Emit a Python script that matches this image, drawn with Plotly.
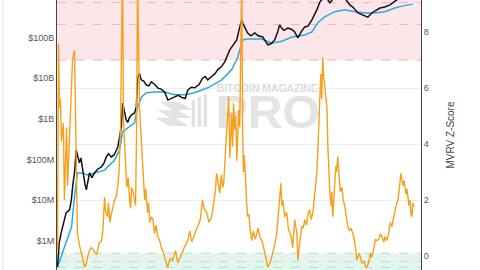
import base64
import plotly.graph_objects as go

# ---------------- data (time in fractional years) ----------------
mcap_t = [2010.55, 2010.70, 2010.90, 2011.04, 2011.11, 2011.24, 2011.31, 2011.44, 2011.58, 2011.72,
          2011.85, 2012.05, 2012.33, 2012.53, 2012.73, 2013.00, 2013.14, 2013.20, 2013.34, 2013.48,
          2013.68, 2013.81, 2013.95, 2014.16, 2014.36, 2014.63, 2014.90, 2015.03, 2015.31, 2015.63,
          2015.84, 2016.12, 2016.44, 2016.65, 2017.05, 2017.34, 2017.54, 2017.83, 2018.03, 2018.15,
          2018.27, 2018.56, 2018.88, 2019.09, 2019.37, 2019.57, 2019.90, 2020.18, 2020.31, 2020.59,
          2020.88, 2021.08, 2021.20, 2021.28, 2021.40, 2021.61, 2021.93, 2022.22, 2022.42, 2022.54,
          2022.75, 2022.95, 2023.15, 2023.31, 2023.52, 2023.64, 2023.84, 2024.05, 2024.33, 2024.53,
          2025.02,
          # extra wiggles
          2010.62, 2010.80, 2011.18, 2011.50, 2011.66, 2011.95, 2012.18, 2012.43, 2012.62, 2012.85,
          2013.27, 2013.40, 2013.58, 2013.75, 2013.88, 2014.05, 2014.26, 2014.48, 2014.76, 2015.17,
          2015.45, 2015.74, 2015.98, 2016.30, 2016.55, 2016.82, 2016.95, 2017.20, 2017.45, 2017.68,
          2017.93, 2018.08, 2018.40, 2018.70, 2019.22, 2019.48, 2019.65, 2019.75, 2020.05, 2020.45,
          2020.72]
mcap = [2.3e5, 1.6e6, 4.9e6, 5.8e6, 1.0e7, 4.7e7, 1.72e8, 8.3e7, 4.7e7, 1.8e7,
        4.7e7, 4.7e7, 6.6e7, 1.16e8, 1.16e8, 2.04e8, 6.3e8, 2.45e9, 9.4e8, 1.1e9,
        1.4e9, 1.07e10, 9.1e9, 6.8e9, 8.1e9, 5.7e9, 4.6e9, 2.9e9, 3.5e9, 3.3e9,
        5.1e9, 5.8e9, 1.0e10, 9.1e9, 1.6e10, 2.5e10, 4.9e10, 8.7e10, 2.7e11, 1.82e11,
        1.29e11, 1.29e11, 1.03e11, 6.6e10, 8.7e10, 2.04e11, 1.71e11, 1.37e11, 9.8e10, 1.82e11,
        2.7e11, 4.75e11, 7.4e11, 8.4e11, 1.1e12, 7.1e11, 1.25e12, 9.2e11, 6.3e11, 5.6e11,
        4.0e11, 3.5e11, 3.16e11, 4.0e11, 4.75e11, 5.3e11, 5.6e11, 6.3e11, 8.4e11, 1.1e12,
        2.0e12,
        9.0e5, 3.0e6, 2.6e7, 1.1e8, 2.6e7, 3.6e7, 5.8e7, 8.0e7, 1.4e8, 1.3e8,
        1.5e9, 8.2e8, 1.3e9, 2.0e9, 1.3e10, 8.5e9, 6.5e9, 7.2e9, 5.4e9, 3.2e9,
        3.8e9, 3.2e9, 6.0e9, 7.0e9, 1.1e10, 1.1e10, 1.3e10, 1.9e10, 3.8e10, 6.5e10,
        1.6e11, 2.2e11, 1.1e11, 1.1e11, 7.0e10, 1.3e11, 1.7e11, 1.5e11, 1.6e11, 1.4e11,
        1.9e11]

rcap_t = [2010.55, 2010.75, 2010.96, 2011.12, 2011.24, 2011.36, 2011.53, 2011.77, 2012.05, 2012.46,
          2012.87, 2013.07, 2013.19, 2013.40, 2013.68, 2013.80, 2013.97, 2014.17, 2014.49, 2014.90,
          2015.31, 2015.71, 2016.12, 2016.65, 2017.22, 2017.62, 2017.87, 2018.07, 2018.27, 2018.84,
          2019.25, 2019.66, 2020.06, 2020.59, 2020.88, 2021.12, 2021.40, 2021.81, 2022.22, 2022.62,
          2023.03, 2023.44, 2023.84, 2024.25, 2024.53, 2024.98]
rcap = [2.3e5, 5.1e5, 1.05e6, 2.2e6, 1.2e7, 4.7e7, 4.7e7, 4.2e7, 4.7e7, 5.5e7,
        9.8e7, 1.72e8, 4.8e8, 6.0e8, 8.0e8, 1.96e9, 3.5e9, 4.4e9, 4.6e9, 4.6e9,
        3.9e9, 3.9e9, 4.4e9, 5.8e9, 9.1e9, 1.6e10, 3.3e10, 8.7e10, 9.2e10, 9.2e10,
        7.2e10, 8.1e10, 1.03e11, 1.15e11, 1.37e11, 2.3e11, 3.2e11, 4.3e11, 4.8e11, 4.3e11,
        4.0e11, 4.0e11, 4.3e11, 5.3e11, 5.9e11, 6.6e11]

z_t = [2010.55, 2010.59, 2010.63, 2010.67, 2010.71, 2010.79, 2010.83, 2010.92, 2010.96, 2011.04,
       2011.12, 2011.16, 2011.24, 2011.32, 2011.36, 2011.53, 2011.65, 2011.77, 2011.93, 2012.14,
       2012.34, 2012.46, 2012.58, 2012.75, 2012.87, 2012.99, 2013.11, 2013.19, 2013.23, 2013.36,
       2013.48, 2013.56, 2013.68, 2013.76, 2013.80, 2013.88, 2013.97, 2014.09, 2014.21, 2014.37,
       2014.49, 2014.70, 2014.82, 2015.02, 2015.23, 2015.43, 2015.59, 2015.84, 2016.12, 2016.44,
       2016.61, 2016.81, 2017.01, 2017.14, 2017.26, 2017.42, 2017.50, 2017.62, 2017.70, 2017.83,
       2017.91, 2017.99, 2018.03, 2018.07, 2018.19, 2018.27, 2018.44, 2018.64, 2018.84, 2019.01,
       2019.09, 2019.29, 2019.45, 2019.62, 2019.70, 2019.86, 2019.98, 2020.10, 2020.18, 2020.27,
       2020.31, 2020.47, 2020.59, 2020.79, 2020.92, 2021.08, 2021.20, 2021.32, 2021.40, 2021.49,
       2021.53, 2021.61, 2021.73, 2021.81, 2021.93, 2022.10, 2022.22, 2022.34, 2022.54, 2022.70,
       2022.91, 2023.11, 2023.31, 2023.52, 2023.72, 2023.92, 2024.13, 2024.25, 2024.37, 2024.49,
       2024.66, 2024.78, 2024.94, 2025.02,
       # extra wiggles
       2011.45, 2011.58, 2011.71, 2011.85, 2012.04, 2012.24, 2012.40, 2012.50, 2012.62, 2012.68,
       2012.80, 2012.93, 2013.05, 2013.42, 2013.52, 2013.62, 2013.72, 2014.02, 2014.13, 2014.25,
       2014.30, 2014.43, 2014.55, 2014.62, 2014.76, 2015.12, 2015.35, 2015.50, 2015.70, 2015.92,
       2016.00, 2016.25, 2016.35, 2016.50, 2016.70, 2016.90, 2016.96, 2017.08, 2017.20, 2017.30,
       2017.36, 2017.46, 2017.55, 2017.58, 2017.66, 2017.75, 2017.79, 2017.87, 2017.95, 2018.10,
       2018.14, 2018.23, 2018.32, 2018.38, 2018.50, 2018.58, 2018.70, 2018.76, 2018.92, 2019.20,
       2019.37, 2019.52, 2019.57, 2019.66, 2019.78, 2019.92, 2020.03, 2020.40, 2020.53, 2020.66,
       2020.72, 2020.85, 2020.98, 2021.03, 2021.14, 2021.24, 2021.28, 2021.36, 2021.44, 2021.57,
       2021.66, 2021.69, 2021.77, 2021.85, 2021.88, 2021.98, 2022.03, 2022.15, 2022.28, 2022.40,
       2022.47, 2022.60, 2022.65, 2022.80, 2022.85, 2023.00, 2023.05, 2023.20, 2023.25, 2023.40,
       2023.46, 2023.60, 2023.66, 2023.80, 2023.86, 2024.00, 2024.06, 2024.18, 2024.30, 2024.42,
       2024.53, 2024.58, 2024.62, 2024.70, 2024.74, 2024.82, 2024.86, 2024.90, 2024.98]
z = [0.2, 7.6, 5.3, 5.6, 4.1, 4.75, 2.0, 4.6, 2.5, 4.4,
     6.75, 7.0, 7.35, 3.2, 0.8, 0.1, -0.4, -0.05, 0.3, 0.05,
     0.55, 2.1, 1.4, 1.55, 2.0, 2.45, 4.6, 10.5, 4.85, 2.45,
     2.0, 2.45, 2.0, 4.4, 10.0, 5.3, 3.8, 2.0, 1.55, 1.4,
     0.8, 0.55, 0.2, -0.4, -0.15, -0.25, 0.1, 0.55, 0.8, 2.0,
     1.55, 1.4, 2.95, 2.25, 2.45, 4.15, 5.7, 5.1, 5.45, 3.4,
     5.2, 6.75, 10.0, 4.4, 2.35, 1.4, 0.55, 0.8, 0.55, -0.15,
     -0.4, 0.1, 0.8, 2.6, 2.0, 1.55, 0.8, 0.3, 1.3, 0.8,
     -0.15, 1.05, 1.3, 1.65, 1.55, 2.95, 5.8, 7.1, 6.05, 5.3,
     3.9, 2.25, 1.4, 2.7, 3.55, 2.45, 1.75, 1.05, 0.8, -0.15,
     -0.25, -0.4, -0.05, 0.55, 0.7, 0.55, 1.05, 1.65, 2.0, 2.95,
     2.45, 2.0, 1.4, 1.75,
     0.35, -0.1, -0.3, 0.2, 0.15, 0.45, 1.0, 1.6, 1.9, 1.2,
     1.8, 2.1, 3.0, 2.8, 1.7, 2.3, 1.8, 3.0, 2.4, 1.9,
     1.2, 1.3, 1.1, 0.7, 0.3, -0.1, 0.2, -0.1, 0.3, 0.9,
     0.5, 1.1, 1.3, 1.7, 1.2, 1.9, 2.3, 2.6, 2.9, 2.6,
     3.6, 4.9, 3.5, 4.6, 3.9, 4.5, 5.0, 4.2, 4.6, 3.0,
     3.6, 1.9, 1.5, 0.9, 0.9, 0.6, 1.0, 0.7, 0.3, -0.2,
     0.4, 1.6, 2.2, 1.8, 1.4, 1.0, 0.7, 0.6, 1.0, 1.1,
     1.5, 1.3, 2.0, 2.4, 4.2, 6.5, 5.6, 6.4, 5.6, 2.8,
     1.8, 2.3, 2.0, 3.2, 3.0, 2.9, 2.3, 2.0, 1.4, 0.9,
     1.0, 0.6, 0.3, 0.1, -0.1, -0.2, -0.35, -0.2, 0.1, 0.3,
     0.6, 0.6, 0.8, 0.5, 0.7, 0.8, 1.2, 1.3, 1.8, 2.3,
     2.7, 2.5, 2.7, 2.2, 2.4, 1.8, 2.0, 1.5, 1.9]

cap_tickvals = [1e6, 1e7, 1e8, 1e9, 1e10, 1e11, 1e12]
cap_ticktext = ["$1M", "$10M", "$100M", "$1B", "$10B", "$100B", "$1T"]
z_tickvals = [0, 2, 4, 6, 8]

red_zone = [7, 9.05]
red_dash = [7, 8.27, 9.05]
green_zone = [-0.5, 0.1]
green_dash = [0.1, -0.2, -0.4]

FONT = "Liberation Sans, Arial, sans-serif"


def by_time(t, v):
    pairs = sorted(zip(t, v))
    return [p[0] for p in pairs], [p[1] for p in pairs]


mx, my = by_time(mcap_t, mcap)
rx, ry = by_time(rcap_t, rcap)
zx, zy = by_time(z_t, z)

# ---------------- watermark (svg image, drawn below the data) ----------------
svg = (
    '<svg xmlns="http://www.w3.org/2000/svg" width="170" height="52" viewBox="0 0 170 52">'
    '<g fill="#e2e2e2">'
    '<polygon points="5,22 25,22 38,30 18,30"/>'
    '<polygon points="3,30 23,30 36,38 16,38"/>'
    '<polygon points="1,38 21,38 34,46 14,46"/>'
    '<rect x="37" y="20" width="3.5" height="27"/>'
    '<rect x="43" y="17" width="3.5" height="30"/>'
    '<rect x="49" y="14" width="3.5" height="33"/>'
    '</g>'
    '<text x="62" y="12" font-family="Liberation Sans, Arial, sans-serif" font-weight="bold" '
    'font-size="10" fill="#dadada" textLength="101" lengthAdjust="spacingAndGlyphs">BITCOIN MAGAZINE</text>'
    '<text x="61" y="48" font-family="Liberation Sans, Arial, sans-serif" font-weight="bold" '
    'font-size="46" fill="#e4e4e4" textLength="104" lengthAdjust="spacingAndGlyphs">PRO</text>'
    '</svg>'
)
svg_uri = "data:image/svg+xml;base64," + base64.b64encode(svg.encode()).decode()

fig = go.Figure()
fig.add_trace(go.Scatter(x=rx, y=ry, mode="lines", name="Realized Cap",
                         line=dict(color="#2ea9dc", width=1.5), yaxis="y"))
fig.add_trace(go.Scatter(x=mx, y=my, mode="lines", name="Market Cap",
                         line=dict(color="#111111", width=1.5), yaxis="y"))
fig.add_trace(go.Scatter(x=zx, y=zy, mode="lines", name="MVRV Z-Score",
                         line=dict(color="#f7a01c", width=1.4), yaxis="y2"))

shapes = [
    dict(type="rect", xref="paper", x0=0, x1=1, yref="y2", y0=red_zone[0], y1=red_zone[1] + 1,
         fillcolor="#fde6e9", line=dict(width=0), layer="below"),
    dict(type="rect", xref="paper", x0=0, x1=1, yref="y2", y0=green_zone[0], y1=green_zone[1],
         fillcolor="#e2f6ee", line=dict(width=0), layer="below"),
    dict(type="line", xref="paper", x0=-0.149, x1=-0.149, yref="paper", y0=0, y1=1,
         line=dict(color="#e4e4e4", width=1)),
]
for v in red_dash:
    shapes.append(dict(type="line", xref="paper", x0=0, x1=1, yref="y2", y0=v, y1=v,
                       line=dict(color="#f3b3ba", width=1, dash="dash"), layer="below"))
for v in green_dash:
    shapes.append(dict(type="line", xref="paper", x0=0, x1=1, yref="y2", y0=v, y1=v,
                       line=dict(color="#b2e0cf", width=1, dash="dash"), layer="below"))

fig.update_layout(
    width=480, height=270,
    margin=dict(l=57, r=59, t=0, b=0),
    paper_bgcolor="white", plot_bgcolor="white",
    showlegend=False,
    font=dict(family=FONT, size=9, color="#555"),
    shapes=shapes,
    images=[dict(source=svg_uri, xref="paper", yref="paper", x=0.268, y=0.7037,
                 sizex=0.4677, sizey=0.1926, xanchor="left", yanchor="top",
                 sizing="stretch", layer="below", opacity=1)],
    xaxis=dict(range=[2010.53, 2025.31], showticklabels=False, showgrid=False,
               zeroline=False, showline=False, ticks=""),
    yaxis=dict(type="log", range=[5.287, 11.921], tickvals=cap_tickvals, ticktext=cap_ticktext,
               showgrid=False, zeroline=False, showline=True, linecolor="#444", linewidth=1,
               ticks="", tickfont=dict(size=9, color="#555")),
    yaxis2=dict(overlaying="y", side="right", range=[-0.5, 9.143], tickvals=z_tickvals,
                showgrid=True, gridcolor="#ececec", gridwidth=1, zeroline=False,
                showline=True, linecolor="#444", linewidth=1, ticks="",
                tickfont=dict(size=9, color="#555"),
                title=dict(text="MVRV Z-Score", font=dict(size=10, color="#444"), standoff=19)),
)

fig.write_html("out.html")
